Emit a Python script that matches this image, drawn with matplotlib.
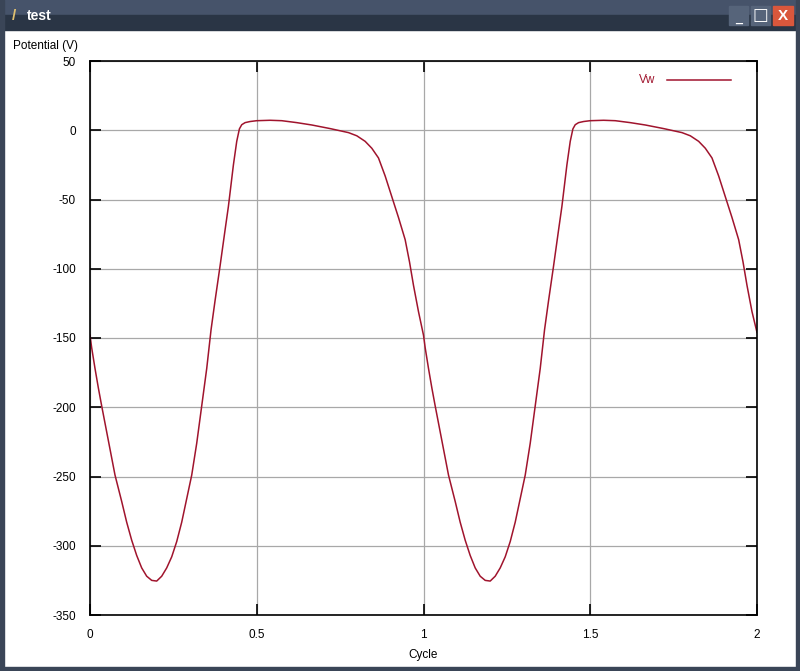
import matplotlib.pyplot as plt
from matplotlib.patches import Rectangle

# values (cycle, potential in V)
cycle_1 = [0.0, 0.005, 0.015, 0.025, 0.035, 0.055, 0.075, 0.095, 0.11, 0.125,
           0.14, 0.155, 0.17, 0.185, 0.2, 0.215, 0.23, 0.245, 0.26, 0.275,
           0.29, 0.305, 0.32, 0.335, 0.35, 0.363, 0.375, 0.39, 0.405, 0.415,
           0.43, 0.44, 0.448, 0.455, 0.465, 0.48, 0.5, 0.54, 0.575, 0.62,
           0.665, 0.72, 0.775, 0.8, 0.825, 0.845, 0.865, 0.885, 0.905, 0.925,
           0.945, 0.958, 0.97, 0.985]
vw_1 = [-148, -157, -172, -186, -199, -224, -249, -268, -283, -296,
        -307, -316, -322, -325, -325.5, -322, -316, -308, -297, -283,
        -266, -249, -226, -199, -172, -144, -123, -98, -72, -55,
        -25, -8, 1, 4, 5.5, 6.3, 6.9, 7.2, 6.9, 5.5,
        3.8, 1.2, -1.7, -4, -8, -13, -20, -33, -48, -63,
        -79, -95, -112, -131]

cycle_2 = [1.0, 1.005, 1.015, 1.025, 1.035, 1.055, 1.075, 1.095, 1.11, 1.125,
           1.14, 1.155, 1.17, 1.185, 1.2, 1.215, 1.23, 1.245, 1.26, 1.275,
           1.29, 1.305, 1.32, 1.335, 1.35, 1.363, 1.375, 1.39, 1.405, 1.415,
           1.43, 1.44, 1.448, 1.455, 1.465, 1.48, 1.5, 1.54, 1.575, 1.62,
           1.665, 1.72, 1.775, 1.8, 1.825, 1.845, 1.865, 1.885, 1.905, 1.925,
           1.945, 1.958, 1.97, 1.985, 2.0]
vw_2 = [-148, -157, -172, -186, -199, -224, -249, -268, -283, -296,
        -307, -316, -322, -325, -325.5, -322, -316, -308, -297, -283,
        -266, -249, -226, -199, -172, -144, -123, -98, -72, -55,
        -25, -8, 1, 4, 5.5, 6.3, 6.9, 7.2, 6.9, 5.5,
        3.8, 1.2, -1.7, -4, -8, -13, -20, -33, -48, -63,
        -79, -95, -112, -131, -146]

xticks = [0, 0.5, 1, 1.5, 2]
xtick_labels = ["0", "0.5", "1", "1.5", "2"]
yticks = [50, 0, -50, -100, -150, -200, -250, -300, -350]

plt.rcParams['font.family'] = ['Liberation Sans', 'DejaVu Sans']
plt.rcParams['axes.unicode_minus'] = False

W, H = 800, 671
fig = plt.figure(figsize=(W / 100, H / 100), dpi=100)

# window frame like the screenshot
def px_rect(x, y, w, h, color):
    fig.patches.append(Rectangle((x / W, 1 - (y + h) / H), w / W, h / H,
                                 transform=fig.transFigure, color=color, zorder=0))

px_rect(0, 0, W, 15, '#46536a')
px_rect(0, 15, W, 15, '#2a3545')
px_rect(0, 0, 4, H, '#3a4557')
px_rect(W - 4, 0, 4, H, '#3a4557')
px_rect(0, H - 4, W, 4, '#3a4557')
px_rect(729, 6, 19, 19, '#56647a')
px_rect(751, 6, 19, 19, '#56647a')
px_rect(773, 6, 20, 19, '#d9573c')
fig.text(738.5 / W, 1 - 19 / H, "_", color='white', fontweight='bold',
         fontsize=9, ha='center', va='center')
fig.text(760.5 / W, 1 - 15.5 / H, "\u25a1", color='white',
         fontsize=12, ha='center', va='center', family=['DejaVu Sans'])
fig.text(783 / W, 1 - 15.5 / H, "X", color='white', fontweight='bold',
         fontsize=11, ha='center', va='center')
fig.text(27 / W, 1 - 16 / H, "test", color='white', fontweight='bold',
         fontsize=10, va='center')
fig.text(12 / W, 1 - 16 / H, "/", color='#e0c070', fontweight='bold',
         fontsize=11, va='center')

ax = fig.add_axes([90 / W, 1 - 615 / H, 667 / W, 554 / H])
line_color = '#a0142d'
ax.plot(cycle_1 + cycle_2, vw_1 + vw_2, color=line_color, linewidth=1.1, label='Vw')

ax.set_xlim(0, 2)
ax.set_ylim(-350, 50)
ax.set_xticks(xticks)
ax.set_xticklabels(xtick_labels)
ax.set_yticks(yticks)
ax.grid(True, color='#a8a8a8', linewidth=0.9)
ax.set_axisbelow(True)
ax.tick_params(direction='in', length=8, width=1.2, top=True, right=True,
               labelsize=8.5, pad=10, colors='black')
for s in ax.spines.values():
    s.set_linewidth(1.2)

fig.text(13 / W, 1 - 46 / H, "Potential (V)", fontsize=8.5, va='center')
fig.text(423 / W, 1 - 655 / H, "Cycle", fontsize=8.5, va='center', ha='center')

# key in the top right corner, gnuplot style
ax.text(655 / W, 1 - 80 / H, "Vw", transform=fig.transFigure, color=line_color,
        fontsize=8.5, ha='right', va='center')
ax.plot([667 / W, 731 / W], [1 - 80 / H, 1 - 80 / H], transform=fig.transFigure,
        color=line_color, linewidth=1.1, clip_on=False)

fig.savefig("out.png", dpi=100)
